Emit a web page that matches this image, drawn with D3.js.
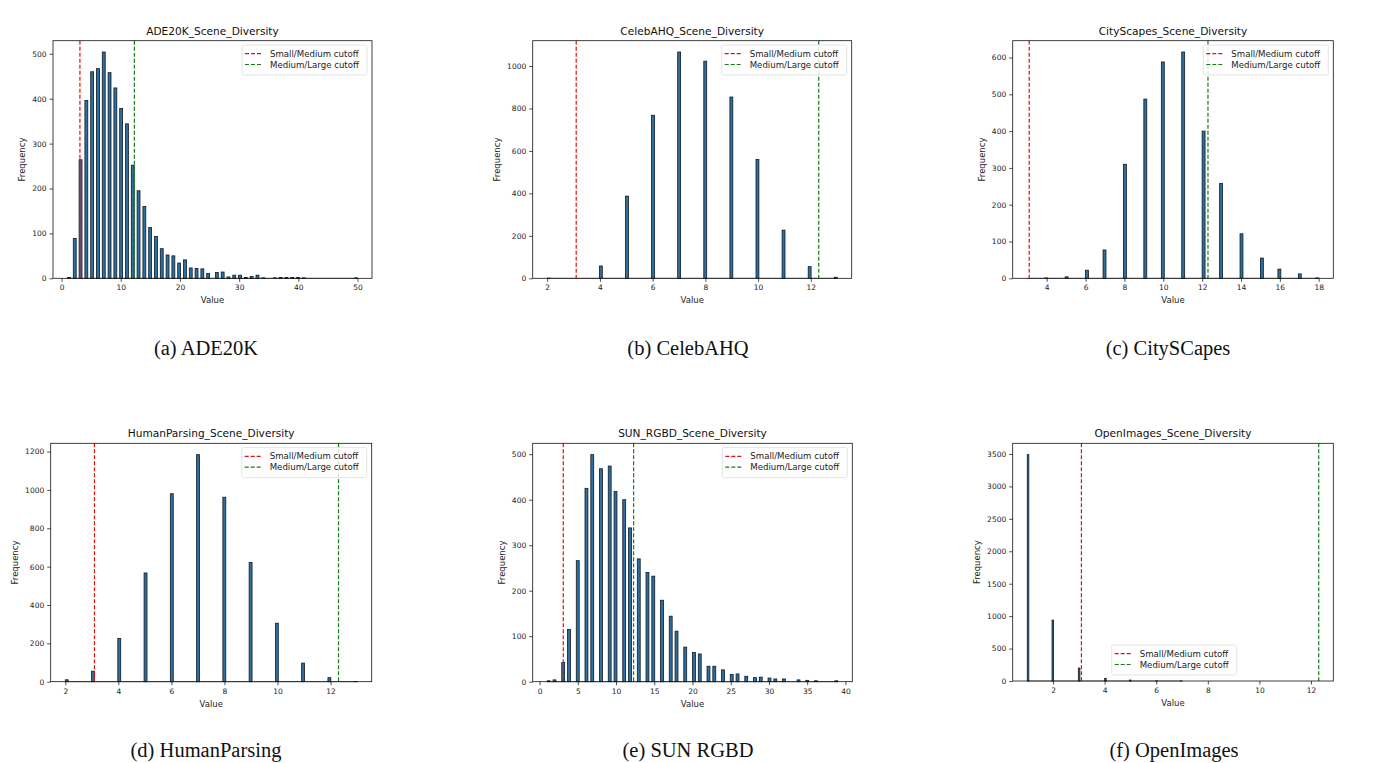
<!DOCTYPE html>
<html><head><meta charset="utf-8">
<script src="https://cdn.jsdelivr.net/npm/d3@7/dist/d3.min.js"></script>
<style>body{margin:0;background:#fff} svg{display:block;background:#fff}</style>
</head><body>
<svg id="chart" width="1376" height="763"></svg>
<script>
// ---------- data ----------
const panelTitles = ["ADE20K_Scene_Diversity","CelebAHQ_Scene_Diversity","CityScapes_Scene_Diversity",
                     "HumanParsing_Scene_Diversity","SUN_RGBD_Scene_Diversity","OpenImages_Scene_Diversity"];
const captions = ["(a) ADE20K","(b) CelebAHQ","(c) CitySCapes","(d) HumanParsing","(e) SUN RGBD","(f) OpenImages"];
const legendLabels = ["Small/Medium cutoff","Medium/Large cutoff"];
const smallMediumCutoff = 3.1;
const mediumLargeCutoff = 12.3;

const ade20kValues = [1,2,3,4,5,6,7,8,9,10,11,12,13,14,15,16,17,18,19,20,21,22,23,24,25,26,27,28,29,30,31,32,33,34,35,36,37,38,39,40,41,42,43,44,45,46,47,48,49,50];
const ade20kCounts = [2,89,264,396,460,467,504,458,424,378,344,252,195,160,113,93,66,52,50,34,41,23,22,21,11,13,14,3,7,7,2,4,7,1,0,1,2,2,2,2,1,0,0,0,0,0,0,0,0,1];
const ade20kXTicks = [0,10,20,30,40,50];
const ade20kYTicks = [0,100,200,300,400,500];

const celebValues = [2,3,4,5,6,7,8,9,10,11,12,13];
const celebCounts = [1,0,58,387,768,1066,1023,854,560,227,55,5];
const celebXTicks = [2,4,6,8,10,12];
const celebYTicks = [0,200,400,600,800,1000];

const cityValues = [3,4,5,6,7,8,9,10,11,12,13,14,15,16,17,18];
const cityCounts = [0,1,4,22,77,310,487,588,615,400,258,121,55,25,12,1];
const cityXTicks = [4,6,8,10,12,14,16,18];
const cityYTicks = [0,100,200,300,400,500,600];

const humanValues = [2,3,4,5,6,7,8,9,10,11,12,13];
const humanCounts = [10,55,225,567,980,1184,962,622,305,97,21,1];
const humanXTicks = [2,4,6,8,10,12];
const humanYTicks = [0,200,400,600,800,1000,1200];

const sunValues = [1,2,3,4,5,6,7,8,9,10,11,12,13,14,15,16,17,18,19,20,21,22,23,24,25,26,27,28,29,30,31,32,33,34,35,36,37,38,39];
const sunCounts = [2,4,42,115,266,425,499,468,474,418,400,338,270,240,232,179,144,111,76,64,61,34,34,26,16,17,12,9,10,8,6,6,0,4,3,2,0,0,2];
const sunXTicks = [0,5,10,15,20,25,30,35,40];
const sunYTicks = [0,100,200,300,400,500];

const openValues = [1,2,3,4,5,6,7];
const openCounts = [3490,939,200,41,15,2,1];
const openXTicks = [2,4,6,8,10,12];
const openYTicks = [0,500,1000,1500,2000,2500,3000,3500];

// ---------- layout ----------
const panels = [
  {values: ade20kValues, counts: ade20kCounts, xTicks: ade20kXTicks, yTicks: ade20kYTicks, l: 53, r: 372, t: 40.7, b: 278.3, cx: 206, cy: 355, legend: "ur"},
  {values: celebValues, counts: celebCounts, xTicks: celebXTicks, yTicks: celebYTicks, l: 532.7, r: 851.7, t: 40.7, b: 278.3, cx: 688, cy: 355, legend: "ur"},
  {values: cityValues, counts: cityCounts, xTicks: cityXTicks, yTicks: cityYTicks, l: 1012.7, r: 1333.3, t: 40.7, b: 278.3, cx: 1168, cy: 355, legend: "ur"},
  {values: humanValues, counts: humanCounts, xTicks: humanXTicks, yTicks: humanYTicks, l: 50.7, r: 371.7, t: 443.3, b: 681.7, cx: 206, cy: 757, legend: "ur"},
  {values: sunValues, counts: sunCounts, xTicks: sunXTicks, yTicks: sunYTicks, l: 532.7, r: 852.3, t: 443.3, b: 681.7, cx: 688, cy: 757, legend: "ur"},
  {values: openValues, counts: openCounts, xTicks: openXTicks, yTicks: openYTicks, l: 1012.7, r: 1333.3, t: 443.3, b: 681, cx: 1174, cy: 757, legend: "lc"}
];

const svg = d3.select("#chart");
const FONT = "DejaVu Sans, sans-serif";
const NBINS = 100;

panels.forEach((p, i) => {
  const vmin = d3.min(p.values), vmax = d3.max(p.values);
  const lo = Math.min(vmin, smallMediumCutoff), hi = Math.max(vmax, mediumLargeCutoff);
  const pad = 0.05 * (hi - lo);
  const x = d3.scaleLinear().domain([lo - pad, hi + pad]).range([p.l, p.r]);
  const y = d3.scaleLinear().domain([0, d3.max(p.counts) * 1.05]).range([p.b, p.t]);
  const w = (vmax - vmin) / NBINS;
  const g = svg.append("g");

  // histogram bars (each integer value falls in one of 100 bins)
  const bars = p.values.map((v, k) => {
    const idx = Math.min(NBINS - 1, Math.floor((v - vmin) / w + 1e-9));
    return {x0: vmin + idx * w, x1: vmin + (idx + 1) * w, c: p.counts[k]};
  }).filter(d => d.c > 0);

  g.append("line")
    .attr("x1", x(vmin)).attr("x2", x(vmax)).attr("y1", y(0)).attr("y2", y(0))
    .attr("stroke", "#666").attr("stroke-width", 0.8);

  g.selectAll("rect.bar").data(bars).join("rect").attr("class", "bar")
    .attr("x", d => x(d.x0))
    .attr("width", d => Math.max(0.3, x(d.x1) - x(d.x0)))
    .attr("y", d => y(d.c))
    .attr("height", d => y(0) - y(d.c))
    .attr("fill", "#2f6f9f")
    .attr("stroke", "#0d1a26").attr("stroke-width", 0.8);

  // cutoff lines
  [[smallMediumCutoff, "#e01010"], [mediumLargeCutoff, "#1a7a1a"]].forEach(([c, col]) => {
    g.append("line").attr("x1", x(c)).attr("x2", x(c)).attr("y1", p.t).attr("y2", p.b)
      .attr("stroke", col).attr("stroke-width", 1.2).attr("stroke-dasharray", "4,2");
  });

  // axes
  const xAxis = g.append("g").attr("transform", `translate(0,${p.b})`)
    .call(d3.axisBottom(x).tickValues(p.xTicks).tickFormat(d3.format("d")).tickSize(3.5).tickPadding(3));
  const yAxis = g.append("g").attr("transform", `translate(${p.l},0)`)
    .call(d3.axisLeft(y).tickValues(p.yTicks).tickFormat(d3.format("d")).tickSize(3.5).tickPadding(3));
  [xAxis, yAxis].forEach(a => {
    a.select(".domain").remove();
    a.selectAll("text").attr("font-family", FONT).attr("font-size", 7.5).attr("fill", "#222");
    a.selectAll("line").attr("stroke", "#222").attr("stroke-width", 0.8);
  });

  // frame
  g.append("rect").attr("x", p.l).attr("y", p.t).attr("width", p.r - p.l).attr("height", p.b - p.t)
    .attr("fill", "none").attr("stroke", "#111").attr("stroke-width", 0.8);

  // title & labels
  g.append("text").attr("x", (p.l + p.r) / 2).attr("y", p.t - 6).attr("text-anchor", "middle")
    .attr("font-family", FONT).attr("font-size", 10.6).attr("fill", "#111").text(panelTitles[i]);
  g.append("text").attr("x", (p.l + p.r) / 2).attr("y", p.b + 25).attr("text-anchor", "middle")
    .attr("font-family", FONT).attr("font-size", 8.5).attr("fill", "#222").text("Value");
  const bb = yAxis.node().getBBox();
  g.append("text").attr("transform", `translate(${p.l + bb.x - 7},${(p.t + p.b) / 2}) rotate(-90)`)
    .attr("text-anchor", "middle").attr("font-family", FONT).attr("font-size", 8.5).attr("fill", "#222").text("Frequency");

  // legend
  const lw = 125, lh = 30;
  const lx = p.legend === "ur" ? p.r - 5 - lw : p.l + 99;
  const ly = p.legend === "ur" ? p.t + 4.3 : p.b - 6 - lh;
  const lg = g.append("g").attr("transform", `translate(${lx},${ly})`);
  lg.append("rect").attr("width", lw).attr("height", lh).attr("rx", 2)
    .attr("fill", "rgba(255,255,255,0.8)").attr("stroke", "#ddd").attr("stroke-width", 0.8);
  [["#e01010", legendLabels[0]], ["#1a7a1a", legendLabels[1]]].forEach(([col, lab], k) => {
    const yy = 8.7 + k * 10.8;
    lg.append("line").attr("x1", 3).attr("x2", 19.5).attr("y1", yy).attr("y2", yy)
      .attr("stroke", col).attr("stroke-width", 1.2).attr("stroke-dasharray", "4,2");
    lg.append("text").attr("x", 28).attr("y", yy + 3).attr("font-family", FONT).attr("font-size", 8.6)
      .attr("fill", "#222").text(lab);
  });

  // caption
  svg.append("text").attr("x", p.cx).attr("y", p.cy).attr("text-anchor", "middle")
    .attr("font-family", "Liberation Serif, Times New Roman, serif").attr("font-size", 20.5).attr("fill", "#111")
    .text(captions[i]);
});
</script>
</body></html>
